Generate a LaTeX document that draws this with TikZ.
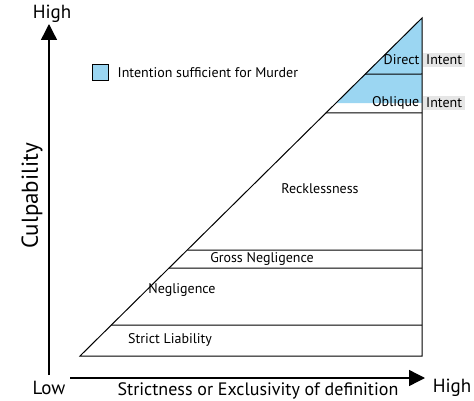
\documentclass[tikz,border=0pt]{standalone}
\usepackage{fontspec}
\setmainfont{PT Sans}
\usetikzlibrary{arrows.meta,calc}
\definecolor{murderblue}{RGB}{155,214,242}
\definecolor{labgray}{RGB}{230,230,230}

\begin{document}
\begin{tikzpicture}[
  x=1pt, y=-1pt,
  band/.style={draw=black, line width=1pt},
  axis/.style={-{Triangle[length=16pt,width=16pt]}, line width=1.4pt},
  lab/.style={font=\fontsize{14}{16}\selectfont, inner sep=1.5pt},
  tag/.style={lab, fill=labgray, anchor=west, inner xsep=3pt, inner ysep=2pt},
  axlab/.style={font=\fontsize{18}{20}\selectfont, inner sep=1pt},
  ends/.style={font=\fontsize{19}{21}\selectfont, inner sep=1pt}
]
\useasboundingbox (0,0) rectangle (474,401);

% ================= the triangle =================
\coordinate (base) at (80,356);
\coordinate (apex) at (422,18);
\coordinate (corner) at (422,356);

% murder zone
\fill[murderblue] (apex) -- (422,103) -- ($(base)!0.7485!(apex)$) -- cycle;

\draw[band] (base) -- (apex) -- (corner) -- cycle;
\draw[band] ($(base)!0.834!(apex)$) -- (422,74);
\draw[band] ($(base)!0.719!(apex)$) -- (422,113);
\draw[band] ($(base)!0.3136!(apex)$) -- (422,250);
\draw[band] ($(base)!0.260!(apex)$) -- (422,268);
\draw[band] ($(base)!0.0917!(apex)$) -- (422,325);

% ================= band labels =================
\node[lab, anchor=east] (direct) at (421,60) {Direct};
\node[tag] (directtag) at (423,60) {Intent};
\node[lab, anchor=east] (oblique) at (421,103) {Oblique};
\node[tag] (obliquetag) at (423,103) {Intent};
\node[lab] (reck) at (320,189) {Recklessness};
\node[lab] (gross) at (262,259) {Gross Negligence};
\node[lab] (negl) at (182,290) {Negligence};
\node[lab] (strict) at (170,340) {Strict Liability};

% ================= legend =================
\draw[fill=murderblue, line width=1pt] (92,65) rectangle (108,81);
\node[lab, anchor=west] (legend) at (116,73) {Intention sufficient for Murder};

% ================= axes =================
\coordinate (yfoot) at (49,375);
\coordinate (ytip) at (49,24);
\coordinate (xfoot) at (70,378);
\coordinate (xtip) at (425,378);
\draw[axis] (yfoot) -- (ytip);
\draw[axis] (xfoot) -- (xtip);

\node[ends] (yhigh) at (52,14) {High};
\node[axlab, font=\fontsize{23}{25}\selectfont, rotate=90] (ylab) at (32,196) {Culpability};
\node[ends] (xlow) at (49,388) {Low};
\node[ends] (xhigh) at (452,388) {High};
\node[axlab] (xlab) at (258,391) {Strictness or Exclusivity of definition};

\end{tikzpicture}
\end{document}
